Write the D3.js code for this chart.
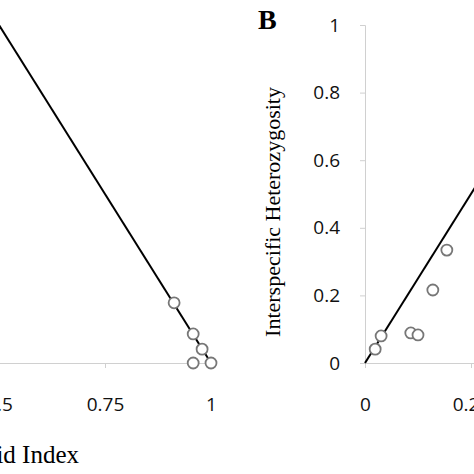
<!DOCTYPE html>
<html><head><meta charset="utf-8">
<script src="https://cdn.jsdelivr.net/npm/d3@7"></script>
<style>body{margin:0;background:#fff;overflow:hidden}</style>
</head><body>
<svg id="c" width="474" height="474"></svg>
<script>
(function(){
  // panel A: hybrid index vs heterozygosity
  var ptsAx = [0.913,0.958,0.979,0.958,1.0];
  var ptsAy = [0.178,0.086,0.041,0,0];
  var lineA = [[0.49,1.02],[1,0]];
  // panel B
  var ptsBx = [0.024,0.038,0.108,0.125,0.16,0.193];
  var ptsBy = [0.041,0.08,0.089,0.083,0.216,0.334];
  var lineB = [[0,0],[0.3,0.6]];
  var xTicks = [0,0.25,0.5,0.75,1];
  var yTicks = [0,0.2,0.4,0.6,0.8,1];

  var svg = d3.select('#c');
  var font = "'Open Sans', 'Liberation Sans', sans-serif";
  var y = d3.scaleLinear().domain([0,1]).range([363,25]);
  var xA = d3.scaleLinear().domain([0,1]).range([-213,211]);
  var xB = d3.scaleLinear().domain([0,1]).range([365,789]);

  function panel(x, px, py, ln, showY){
    var g = svg.append('g');
    var xa = g.append('g').attr('transform','translate(0,363)')
      .call(d3.axisBottom(x).tickValues(xTicks).tickSize(5).tickPadding(30)
        .tickFormat(function(d){return d3.format('')(d);}));
    xa.select('.domain').attr('stroke','#d0d0d0');
    xa.selectAll('line').attr('stroke','#d0d0d0');
    xa.selectAll('text').attr('font-family',font).attr('font-size',19).attr('fill','#111');
    if(showY){
      var ya = g.append('g').attr('transform','translate('+x(0)+',0)')
        .call(d3.axisLeft(y).tickValues(yTicks).tickSize(5).tickPadding(20)
          .tickFormat(function(d){return d3.format('')(d);}));
      ya.select('.domain').attr('stroke','#d0d0d0');
      ya.selectAll('line').attr('stroke','#d0d0d0');
      ya.selectAll('text').attr('font-family',font).attr('font-size',19).attr('fill','#111');
    }
    g.append('line').attr('x1',x(ln[0][0])).attr('y1',y(ln[0][1]))
      .attr('x2',x(ln[1][0])).attr('y2',y(ln[1][1]))
      .attr('stroke','#000').attr('stroke-width',2);
    g.selectAll('circle.p').data(px).enter().append('circle')
      .attr('cx',function(d){return x(d);})
      .attr('cy',function(d,i){return y(py[i]);})
      .attr('r',5.5).attr('fill','#fff').attr('stroke','#777').attr('stroke-width',1.8);
  }
  panel(xA, ptsAx, ptsAy, lineA, false);
  panel(xB, ptsBx, ptsBy, lineB, true);

  var serif = "'Liberation Serif', 'DejaVu Serif', serif";
  svg.append('text').attr('x',258).attr('y',29).text('B')
    .attr('font-family',serif).attr('font-weight','bold').attr('font-size',28);
  svg.append('text').attr('transform','translate(280,212) rotate(-90)')
    .attr('text-anchor','middle').text('Interspecific Heterozygosity')
    .attr('font-family',serif).attr('font-size',22);
  svg.append('text').attr('x',79).attr('y',463).attr('text-anchor','end')
    .text('Hybrid Index').attr('font-family',serif).attr('font-size',25);
})();
</script>
</body></html>
